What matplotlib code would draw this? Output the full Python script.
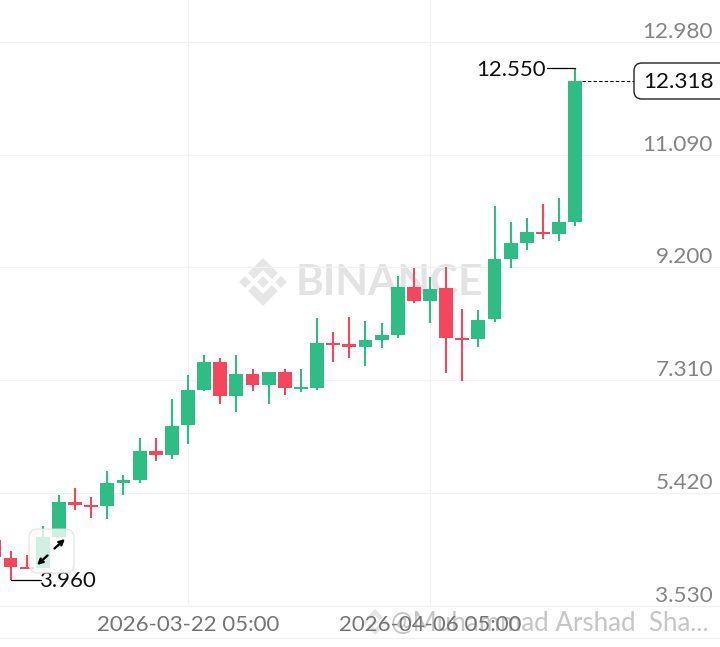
import matplotlib
matplotlib.use("Agg")
import matplotlib.dates as mdates
import matplotlib.pyplot as plt
import numpy as np
import pandas as pd
from matplotlib.patches import FancyBboxPatch, Polygon

plt.rcParams["font.family"] = ["Lato", "DejaVu Sans"]

W, H = 720, 647
GREEN = "#2EBD85"
RED = "#F6465D"

dates = pd.date_range("2026-03-10 05:00", periods=37, freq="D")
opens = [4.621, 4.319, 4.168, 4.151, 4.671, 5.258, 5.208, 5.191, 5.577, 5.628, 6.114, 6.047,
         6.551, 7.138, 7.608, 7.038, 7.407, 7.222, 7.440, 7.155, 7.172, 7.927, 7.910, 7.860,
         7.977, 8.061, 8.867, 8.632, 8.850, 8.011, 7.994, 8.330, 9.337, 9.605, 9.790, 9.757, 9.958]
highs = [4.621, 4.436, 4.369, 4.856, 5.376, 5.494, 5.342, 5.779, 5.712, 6.333, 6.333, 6.987,
         7.390, 7.726, 7.675, 7.726, 7.491, 7.440, 7.491, 7.491, 8.347, 8.112, 8.363, 8.296,
         8.263, 9.052, 9.186, 9.035, 9.203, 8.498, 8.481, 10.226, 9.958, 10.025, 10.260, 10.361, 12.550]
lows = [4.335, 3.960, 4.134, 4.151, 4.671, 5.124, 4.990, 4.973, 5.376, 5.577, 5.947, 5.980,
        6.232, 7.122, 6.903, 6.769, 7.122, 6.903, 7.054, 7.105, 7.138, 7.608, 7.675, 7.541,
        7.843, 8.011, 8.598, 8.263, 7.424, 7.289, 7.860, 8.280, 9.186, 9.488, 9.673, 9.639, 9.891]
closes = [4.335, 4.168, 4.134, 4.671, 5.258, 5.208, 5.175, 5.577, 5.628, 6.114, 6.047, 6.534,
          7.138, 7.608, 7.038, 7.407, 7.222, 7.440, 7.172, 7.189, 7.927, 7.893, 7.860, 7.977,
          8.061, 8.867, 8.632, 8.833, 8.011, 7.977, 8.313, 9.337, 9.605, 9.790, 9.757, 9.958, 12.318]

price_ticks = [3.53, 5.42, 7.31, 9.20, 11.09, 12.98]
date_ticks = ["2026-03-22 05:00", "2026-04-06 05:00"]
last_price = 12.318
max_price = 12.550
min_price = 3.960
watermark = "@Muhammad Arshad  Sha..."

fig = plt.figure(figsize=(W / 100, H / 100), dpi=100, facecolor="white")

# pixel layers under and over the chart, for watermark and expand icon
bg = fig.add_axes([0, 0, 1, 1], zorder=0)
bg.set_xlim(0, W)
bg.set_ylim(H, 0)
bg.axis("off")

ax = fig.add_axes([0, (H - 605.5) / H, 1, 605.5 / H], zorder=1)
ax.patch.set_alpha(0)
tick_nums = mdates.date2num(pd.to_datetime(date_ticks))
per_day = (430 - 188) / (tick_nums[1] - tick_nums[0])
ax.set_xlim(tick_nums[0] - 188 / per_day, tick_nums[0] + (W - 188) / per_day)
ax.set_ylim(price_ticks[0], 13.684)

x = mdates.date2num(dates)
up = np.array(closes) >= np.array(opens)
colors = [GREEN if u else RED for u in up]
ax.vlines(x, lows, highs, colors=colors, lw=1.5, zorder=3)
ax.bar(x, np.array(closes) - np.array(opens), bottom=opens, width=0.86, color=colors, lw=0, zorder=3)

ax.set_xticks(tick_nums)
ax.set_xticklabels(date_ticks, fontsize=16, color="#757575")
ax.set_yticks(price_ticks)
ax.set_yticklabels([f"{p:.3f}" for p in price_ticks], fontsize=16.2, color="#858585", va="bottom", ha="right")
ax.yaxis.tick_right()
ax.tick_params(axis="y", length=0, pad=-5, direction="in")
ax.tick_params(axis="x", length=0, pad=7)
ax.grid(True, color="#F1F1F1", lw=0.9)
ax.set_axisbelow(True)
for side in ["top", "left", "right"]:
    ax.spines[side].set_visible(False)
ax.spines["bottom"].set_color("#F1F1F1")

bg.axhline(638, color="#F1F1F1", lw=0.9)

# high, low and last price markers
hi_x = x[np.argmax(highs)]
lo_x = x[np.argmin(lows)]
px = per_day
ax.plot([hi_x - 28 / px, hi_x], [max_price, max_price], color="black", lw=0.9, zorder=4)
ax.annotate(f"{max_price:.3f}", (hi_x - 29 / px, max_price), xytext=(0, -1.5), textcoords="offset points",
            ha="right", va="center", fontsize=16, color="#111111", zorder=5)
ax.plot([lo_x, lo_x + 30 / px], [min_price, min_price], color="black", lw=0.9, zorder=4)
ax.annotate(f"{min_price:.3f}", (lo_x + 28 / px, min_price), xytext=(0, -1), textcoords="offset points",
            ha="left", va="center", fontsize=16, color="#111111", zorder=5)
ax.plot([hi_x + 7 / px, hi_x + 59 / px], [last_price, last_price], color="black", lw=0.8, ls=(0, (3, 2)), zorder=4)

fg = fig.add_axes([0, 0, 1, 1], zorder=2)
fg.set_xlim(0, W)
fg.set_ylim(H, 0)
fg.axis("off")
fg.add_patch(FancyBboxPatch((642, 71), 90, 20, boxstyle="round,pad=8", fc="white", ec="#222222", lw=1.0))
fg.text(679, 82, f"{last_price:.3f}", ha="center", va="center", fontsize=16.2, color="#111111")

# expand icon
fg.add_patch(FancyBboxPatch((38, 538), 27, 26, boxstyle="round,pad=9", fc="white", ec="#DDDDDD", lw=0.9, alpha=0.78))
for tail, tip in [((47.5, 555.5), (37, 565)), ((54.5, 548.5), (65, 539))]:
    fg.annotate("", xy=tip, xytext=tail, arrowprops=dict(arrowstyle="->", color="black", lw=1.7, shrinkA=0, shrinkB=0, mutation_scale=8))


def binance_logo(cx, cy, s, color):
    shapes = [
        [(0, -0.25), (0.25, 0), (0, 0.25), (-0.25, 0)],
        [(-1, 0), (-0.75, -0.25), (-0.5, 0), (-0.75, 0.25)],
        [(1, 0), (0.75, -0.25), (0.5, 0), (0.75, 0.25)],
        [(0, -1), (0.62, -0.38), (0.37, -0.13), (0, -0.5), (-0.37, -0.13), (-0.62, -0.38)],
        [(0, 1), (0.62, 0.38), (0.37, 0.13), (0, 0.5), (-0.37, 0.13), (-0.62, 0.38)],
    ]
    for pts in shapes:
        bg.add_patch(Polygon([(cx + a * s, cy + b * s) for a, b in pts], fc=color, ec="none"))


binance_logo(263, 282, 24, "#E6E6E6")
bg.text(296, 283, "BINANCE", fontsize=30.5, fontweight="bold", color="#E3E3E3", ha="left", va="center")
binance_logo(375, 622, 13, "#E4E4E4")
bg.text(391, 623, watermark, fontsize=18.6, color="#C6C6C6", ha="left", va="center")

fig.savefig("out.png", dpi=100)
